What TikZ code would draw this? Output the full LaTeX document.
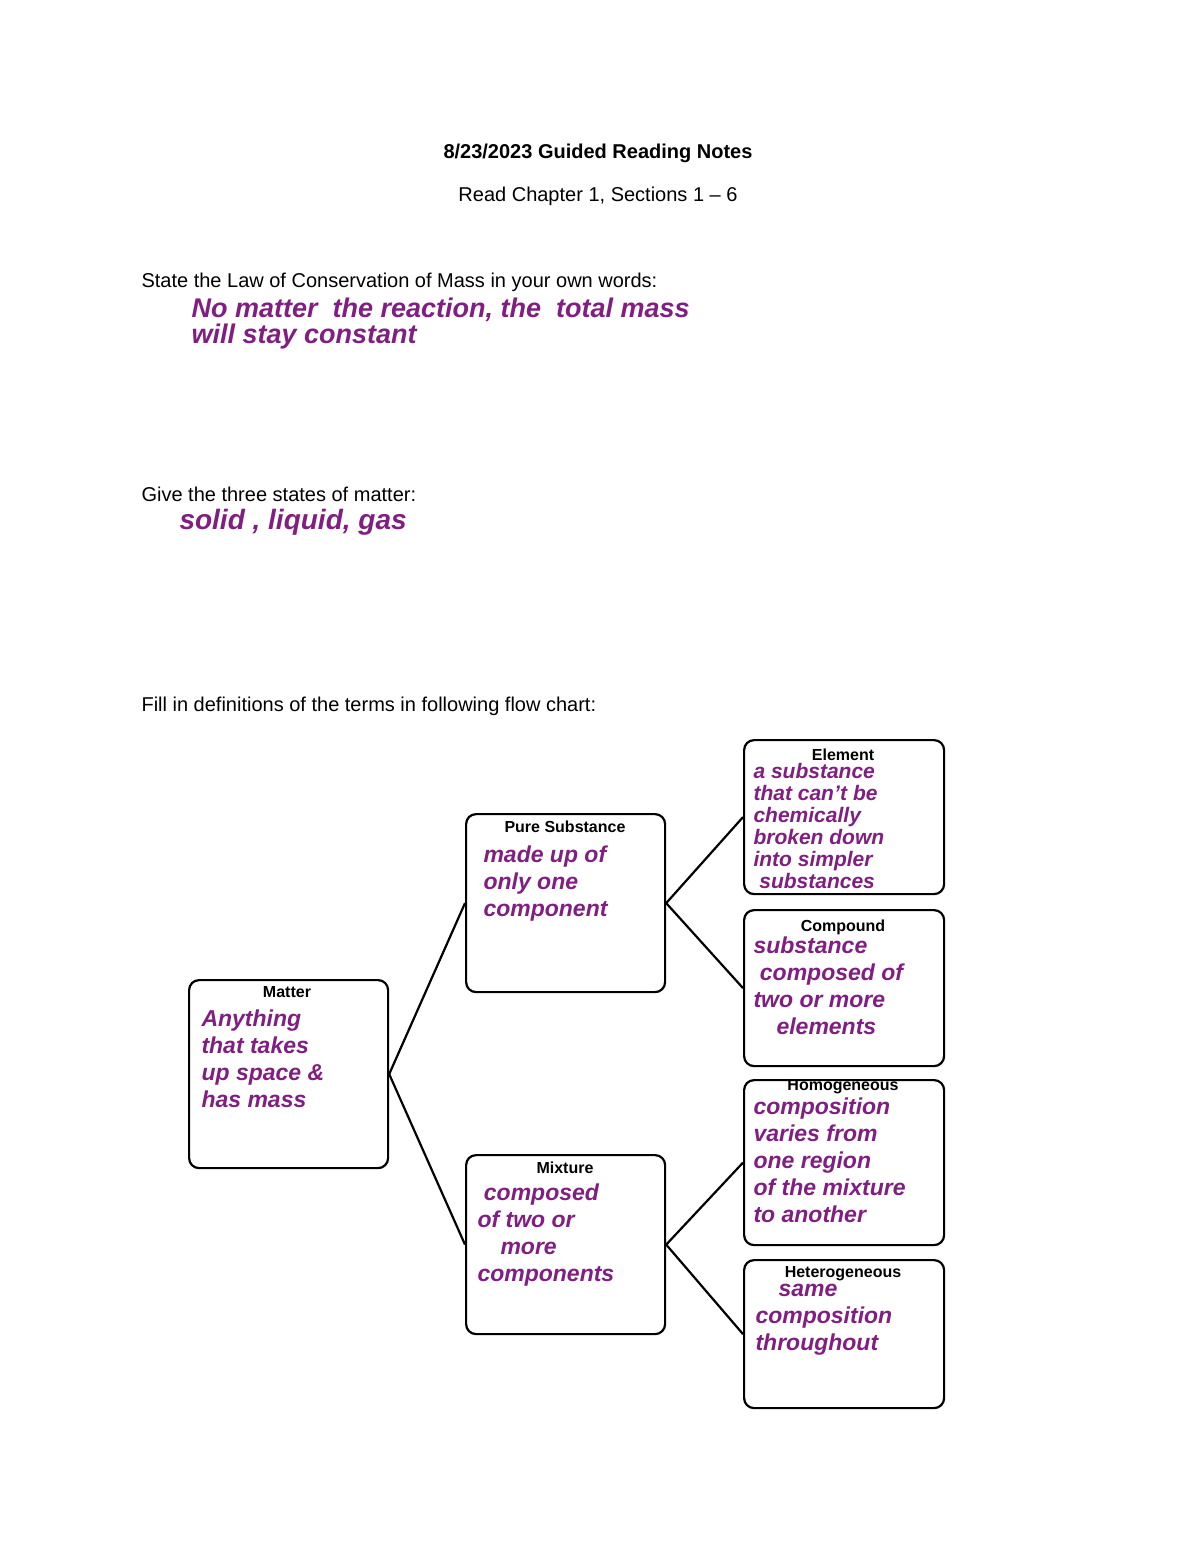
\documentclass[tikz,border=0pt]{standalone}
\usepackage{fontspec}
\setmainfont{Liberation Sans}
\definecolor{hand}{RGB}{128,30,130}
\begin{document}
\begin{tikzpicture}[x=1pt,y=-1pt,
 box/.style={draw,line width=2.2pt,rounded corners=10pt,anchor=north west,inner sep=0pt},
 lbl/.style={font=\bfseries\fontsize{16}{18}\selectfont,anchor=north},
 hw/.style={text=hand,font=\bfseries\itshape\fontsize{23}{27}\selectfont,align=left,anchor=north west},
 body/.style={font=\fontsize{20}{24}\selectfont,anchor=west},
 conn/.style={line width=2.2pt}]
\useasboundingbox (0,0) rectangle (1200,1553);
\node[font=\bfseries\fontsize{20}{24}\selectfont] (title) at (598,153) {8/23/2023 Guided Reading Notes};
\node[font=\fontsize{20}{24}\selectfont] (sub) at (598,196) {Read Chapter 1, Sections 1 -- 6};
\node[body] (q1) at (138,282) {State the Law of Conservation of Mass in your own words:};
\node[hw,anchor=west,font=\bfseries\itshape\fontsize{27}{26}\selectfont] (a1) at (188,324) {No matter \ the reaction, the \ total mass\\will stay constant};
\node[body] (q2) at (138,494) {Give the three states of matter:};
\node[hw,anchor=west,font=\bfseries\itshape\fontsize{28}{30}\selectfont] (a2) at (176,522) {solid , liquid, gas};
\node[body] (q3) at (138,706) {Fill in definitions of the terms in following flow chart:};
% boxes
\node[box,minimum width=199pt,minimum height=188pt] (matter) at (188,979) {};
\node[box,minimum width=199pt,minimum height=178pt] (pure) at (465,813) {};
\node[box,minimum width=199pt,minimum height=179pt] (mix) at (465,1154) {};
\node[box,minimum width=200pt,minimum height=154pt] (elem) at (743,739) {};
\node[box,minimum width=200pt,minimum height=156pt] (comp) at (743,909) {};
\node[box,minimum width=200pt,minimum height=165pt] (homo) at (743,1079) {};
\node[box,minimum width=200pt,minimum height=148pt] (hetero) at (743,1259) {};
\draw[conn] (matter.east) -- (pure.west);
\draw[conn] (matter.east) -- (mix.west);
\draw[conn] (pure.east) -- (elem.west);
\draw[conn] (pure.east) -- (comp.west);
\draw[conn] (mix.east) -- (homo.west);
\draw[conn] (mix.east) -- (hetero.west);
% labels
\node[lbl] (lm) at (287,983) {Matter};
\node[lbl] (lp) at (565,817) {Pure Substance};
\node[lbl] (lx) at (565,1158) {Mixture};
\node[lbl] (le) at (843,745) {Element};
\node[lbl] (lc) at (843,916) {Compound};
\node[lbl] (lh) at (843,1076) {Homogeneous};
\node[lbl] (lt) at (843,1263) {Heterogeneous};
% handwritten
\node[hw] (tm) at (198,1006) {Anything\\that takes\\up space \&\\has mass};
\node[hw] (tp) at (480,842) {made up of\\only one\\component};
\node[hw] (tx) at (474,1180) {\ composed\\of two or\\\quad more\\components};
\node[hw,font=\bfseries\itshape\fontsize{21}{22}\selectfont] (te) at (750,760) {a substance\\that can't be\\chemically\\broken down\\into simpler\\\ substances};
\node[hw] (tc) at (750,933) {substance\\\ composed of\\two or more\\\quad elements};
\node[hw] (th) at (750,1094) {composition\\varies from\\one region\\of the mixture\\to another};
\node[hw] (tt) at (752,1281) {\quad same\\composition\\throughout};
\end{tikzpicture}
\end{document}
